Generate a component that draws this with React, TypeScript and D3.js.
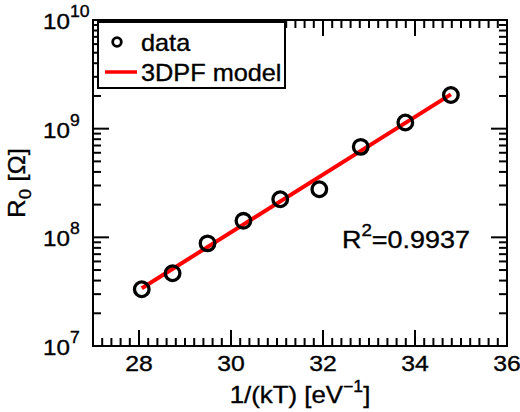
import React from "react";
import * as d3 from "d3";

const dataX = [28.06, 28.73, 29.49, 30.27, 31.07, 31.92, 32.82, 33.79, 34.78];
const dataY = [3.33e7, 4.67e7, 8.8e7, 1.42e8, 2.24e8, 2.77e8, 6.8e8, 1.14e9, 2.04e9];
const modelX = [28.06, 34.78];
const modelY = [3.4e7, 2.07e9];
const xMajorTicks = [28, 30, 32, 34, 36];
const yDecades = [7, 8, 9, 10];
const r2Label = "=0.9937";

const W = 520, H = 412;
const L = 93, R = 507, T = 20, B = 346;
const FONT = "'Liberation Sans', Arial, Helvetica, sans-serif";
const SX = 1.1;

function Txt(props: {
  x: number;
  y: number;
  fs: number;
  anchor?: string;
  rot?: number;
  children: React.ReactNode;
}) {
  const { x, y, fs, anchor, rot, children } = props;
  return (
    <text
      transform={`translate(${x},${y})${rot ? ` rotate(${rot})` : ""} scale(${SX},1)`}
      fontSize={fs}
      textAnchor={anchor || "start"}
      fill="#000"
      stroke="#000"
      strokeWidth={0.35}
    >
      {children}
    </text>
  );
}

export default function App() {
  const x = d3.scaleLinear().domain([27, 36]).range([L, R]);
  const y = d3.scaleLog().domain([1e7, 1e10]).range([B, T]);

  const xMinor = d3.range(27, 36.0001, 0.2).filter((v) => !xMajorTicks.some((m) => Math.abs(m - v) < 1e-6));
  const yMinor: number[] = [];
  for (const d of yDecades.slice(0, -1)) {
    for (let k = 2; k <= 9; k++) yMinor.push(k * Math.pow(10, d));
  }
  const majLen = 16, minLen = 8;
  const line = d3
    .line<number>()
    .x((_, i) => x(modelX[i]))
    .y((_, i) => y(modelY[i]));

  return (
    <svg width={W} height={H} style={{ position: "absolute", left: 0, top: 0, background: "#fff" }} fontFamily={FONT}>
      <rect x={0} y={0} width={W} height={H} fill="#fff" />
      {/* ticks */}
      <g stroke="#000" strokeWidth={2}>
        {xMinor.map((v, i) => (
          <g key={"xm" + i}>
            <line x1={x(v)} x2={x(v)} y1={B} y2={B - minLen} />
            <line x1={x(v)} x2={x(v)} y1={T} y2={T + minLen} />
          </g>
        ))}
        {xMajorTicks.map((v, i) => (
          <g key={"xM" + i}>
            <line x1={x(v)} x2={x(v)} y1={B} y2={B - majLen} />
            <line x1={x(v)} x2={x(v)} y1={T} y2={T + majLen} />
          </g>
        ))}
        {yMinor.map((v, i) => (
          <g key={"ym" + i}>
            <line x1={L} x2={L + minLen} y1={y(v)} y2={y(v)} />
            <line x1={R} x2={R - minLen} y1={y(v)} y2={y(v)} />
          </g>
        ))}
        {yDecades.map((d, i) => (
          <g key={"yM" + i}>
            <line x1={L} x2={L + majLen} y1={y(Math.pow(10, d))} y2={y(Math.pow(10, d))} />
            <line x1={R} x2={R - majLen} y1={y(Math.pow(10, d))} y2={y(Math.pow(10, d))} />
          </g>
        ))}
      </g>
      <rect x={L} y={T} width={R - L} height={B - T} fill="none" stroke="#000" strokeWidth={2} />

      {/* x tick labels */}
      {xMajorTicks.map((v, i) => (
        <Txt key={"xl" + i} x={x(v)} y={B + 25} fs={22.5} anchor="middle">
          {v}
        </Txt>
      ))}
      {/* y tick labels */}
      {yDecades.map((d, i) => (
        <Txt key={"yl" + i} x={43} y={y(Math.pow(10, d)) + 9} fs={22}>
          10
          <tspan fontSize={16} dy={-12}>
            {d}
          </tspan>
        </Txt>
      ))}

      {/* axis titles */}
      <Txt x={(L + R) / 2} y={403} fs={23.5} anchor="middle">
        1/(kT) [eV
        <tspan fontSize={16} dy={-11}>
          −1
        </tspan>
        <tspan dy={11}>]</tspan>
      </Txt>
      <Txt x={25} y={(T + B) / 2} fs={23.5} anchor="middle" rot={-90}>
        R
        <tspan fontSize={17} dy={6}>
          0
        </tspan>
        <tspan dy={-6}> [Ω]</tspan>
      </Txt>

      {/* model line */}
      <path d={line(modelX) || ""} fill="none" stroke="#ff0000" strokeWidth={4} />
      {/* data points */}
      {dataX.map((v, i) => (
        <circle key={"p" + i} cx={x(v)} cy={y(dataY[i])} r={7.3} fill="none" stroke="#000" strokeWidth={3.3} />
      ))}

      {/* R^2 annotation */}
      <Txt x={342} y={248} fs={24.5}>
        R
        <tspan fontSize={17} dy={-12}>
          2
        </tspan>
        <tspan dy={12}>{r2Label}</tspan>
      </Txt>

      {/* legend */}
      <rect x={98} y={22} width={187} height={66} fill="#fff" stroke="#000" strokeWidth={2} />
      <circle cx={117} cy={42} r={4.3} fill="none" stroke="#000" strokeWidth={2.8} />
      <Txt x={141} y={51} fs={23}>
        data
      </Txt>
      <line x1={105} x2={137} y1={72} y2={72} stroke="#ff0000" strokeWidth={3.5} />
      <Txt x={141} y={81} fs={23}>
        3DPF model
      </Txt>
    </svg>
  );
}
